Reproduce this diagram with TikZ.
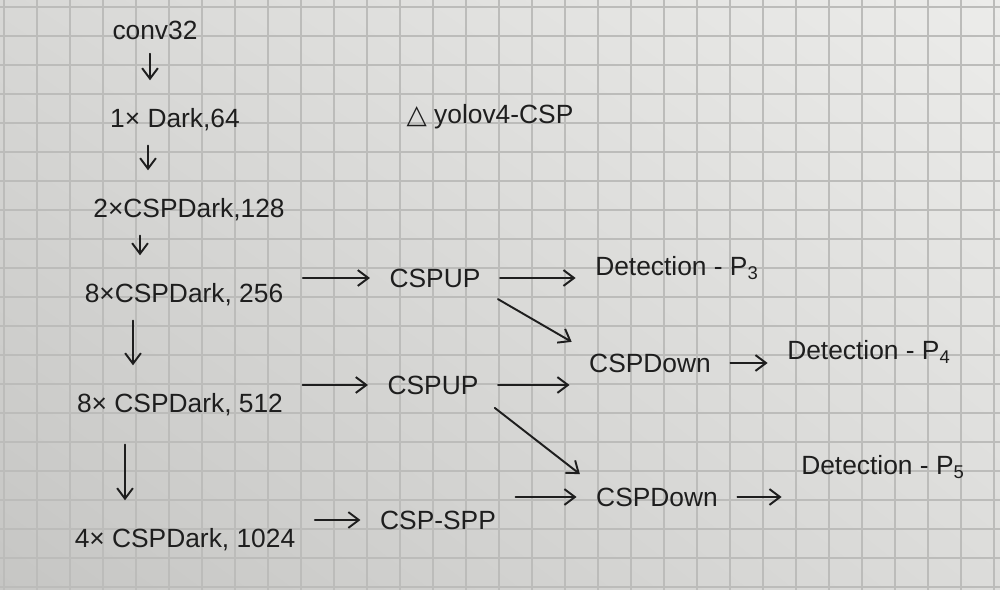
\documentclass[tikz,border=0pt]{standalone}
\usepackage{fontspec}
\setmainfont{Liberation Sans}
\newfontfamily\symfont{DejaVu Sans}
\usetikzlibrary{arrows.meta,shadings}

\definecolor{ink}{RGB}{30,30,30}
\definecolor{gridgray}{RGB}{188,188,186}
\definecolor{paperA}{RGB}{216,216,214}
\definecolor{paperB}{RGB}{236,236,234}
\definecolor{paperC}{RGB}{198,198,196}
\definecolor{paperD}{RGB}{220,220,218}

\begin{document}
\begin{tikzpicture}[x=0.02cm, y=-0.02cm,
    lbl/.style={text=ink, inner sep=2pt, font=\fontsize{15}{18}\selectfont},
    flow/.style={draw=ink, line width=1.1pt, line cap=round,
      -{Straight Barb[length=6pt,width=9pt]}, shorten <=9pt, shorten >=9pt},
    downflow/.style={flow, shorten <=6pt, shorten >=14pt},
    gridline/.style={draw=gridgray, line width=0.6pt}]

    % 方眼紙
    \useasboundingbox (0,0) rectangle (1000,590);
    \shade[upper left=paperA, upper right=paperB, lower left=paperC, lower right=paperD]
      (0,0) rectangle (1000,590);
    \foreach \gx in {4,37,...,1000} \draw[gridline] (\gx,0) -- (\gx,590);
    \foreach \gy in {7,36,...,590} \draw[gridline] (0,\gy) -- (1000,\gy);

    % ノードを描画
    \node[lbl] (conv) at (155,30) {conv32};
    \node[lbl] (dark1) at (175,120) {1× Dark,64};
    \node[lbl] (csp128) at (189,210) {2×CSPDark,128};
    \node[lbl] (csp256) at (184,295) {8×CSPDark, 256};
    \node[lbl] (csp512) at (180,405) {8× CSPDark, 512};
    \node[lbl] (csp1024) at (185,540) {4× CSPDark, 1024};
    \node[lbl] (title) at (490,117) {{\symfont △}\ yolov4-CSP};

    \node[lbl] (up1) at (435,278) {CSPUP};
    \node[lbl] (up2) at (433,385) {CSPUP};
    \node[lbl] (spp) at (438,520) {CSP-SPP};

    \node[lbl] (det3) at (677,268) {Detection - P\textsubscript{3}};
    \node[lbl] (down1) at (650,363) {CSPDown};
    \node[lbl] (det4) at (869,352) {Detection - P\textsubscript{4}};
    \node[lbl] (down2) at (657,497) {CSPDown};
    \node[lbl] (det5) at (883,467) {Detection - P\textsubscript{5}};

    % 縦の矢印
    \draw[downflow] ([xshift=-0.1cm]conv.south) -- ([xshift=-0.1cm]conv.south |- dark1.north);
    \draw[downflow] ([xshift=-0.54cm]dark1.south) -- ([xshift=-0.54cm]dark1.south |- csp128.north);
    \draw[downflow] ([xshift=-0.98cm]csp128.south) -- ([xshift=-0.98cm]csp128.south |- csp256.north);
    \draw[downflow] ([xshift=-1.02cm]csp256.south) -- ([xshift=-1.02cm]csp256.south |- csp512.north);
    \draw[downflow, shorten <=14pt] ([xshift=-1.1cm]csp512.south) -- ([xshift=-1.1cm]csp512.south |- csp1024.north);

    % 横の矢印
    \draw[flow] (up1.west -| csp256.east) -- (up1.west);
    \draw[flow] (up1.east) -- (up1.east -| det3.west);
    \draw[flow] (up2.west -| csp512.east) -- (up2.west);
    \draw[flow] (up2.east) -- (up2.east -| down1.west);
    \draw[flow] (spp.west -| csp1024.east) -- (spp.west);
    \draw[flow] (down2.west -| spp.east) -- (down2.west);
    \draw[flow] (down1.east) -- (down1.east -| det4.west);
    \draw[flow] (down2.east) -- (down2.east -| det5.west);

    % 斜めの矢印
    \draw[flow] (up1.south east) -- (down1.north west);
    \draw[flow] (up2.south east) -- (down2.north west);
\end{tikzpicture}
\end{document}
